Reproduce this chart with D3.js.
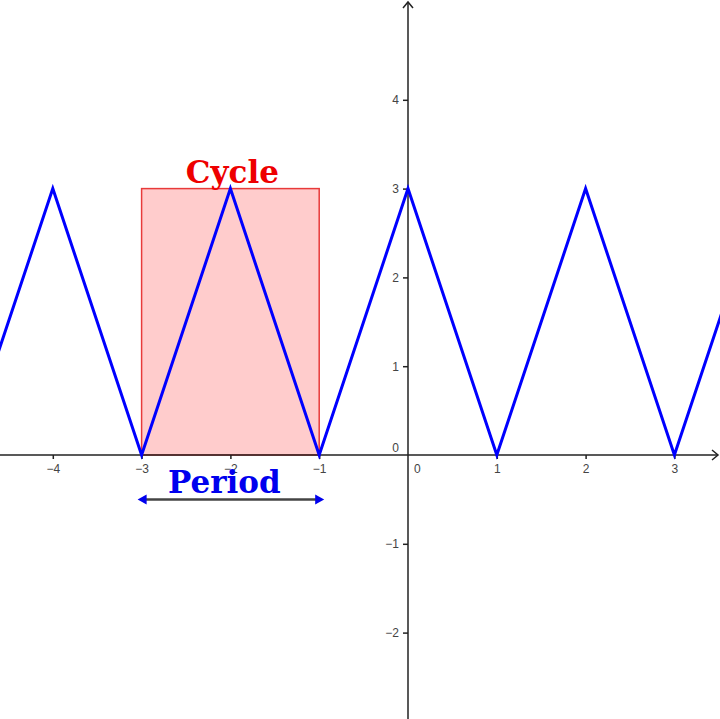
<!DOCTYPE html>
<html><head><meta charset="utf-8">
<script src="https://cdn.jsdelivr.net/npm/d3@7"></script>
<style>html,body{margin:0;padding:0;background:#fff;overflow:hidden}</style>
</head><body>
<svg id="c" width="720" height="719"></svg>
<script>
// data
const waveX = [-5, -4, -3, -2, -1, 0, 1, 2, 3, 4];
const waveY = [0, 3, 0, 3, 0, 3, 0, 3, 0, 3];
const xTicks = [-4, -3, -2, -1, 1, 2, 3];
const yTicks = [-2, -1, 1, 2, 3, 4];
const cycleX = [-3, -1];
const cycleY = [0, 3];
const periodX = [-3, -1];
const periodY = -0.5;
const cycleLabel = "Cycle";
const periodLabel = "Period";

const W = 720, H = 719;
const unit = 88.8;
const x = d3.scaleLinear().domain([-408 / unit, (W - 408) / unit]).range([0, W]);
const y = d3.scaleLinear().domain([-(H - 455) / unit, 455 / unit]).range([H, 0]);

const svg = d3.select("#c");
const defs = svg.append("defs");
defs.append("clipPath").attr("id", "clip").append("rect").attr("width", W).attr("height", H);

// cycle rectangle
svg.append("rect")
  .attr("x", x(cycleX[0])).attr("y", y(cycleY[1]))
  .attr("width", x(cycleX[1]) - x(cycleX[0]))
  .attr("height", y(cycleY[0]) - y(cycleY[1]))
  .attr("fill", "#ffcccc").attr("stroke", "#e83a3a").attr("stroke-width", 1.5);

// axes
const axisColor = "#222";
const labelColor = "#444";
const font = "'Liberation Sans', Arial, sans-serif";

const xAxis = d3.axisBottom(x).tickValues(xTicks).tickSize(4).tickPadding(5)
  .tickFormat(d => d < 0 ? "\u2212" + Math.abs(d) : d);
const gx = svg.append("g").attr("transform", `translate(0,${y(0)})`).call(xAxis);
gx.select(".domain").remove();
gx.selectAll(".tick line").attr("stroke", axisColor).attr("stroke-width", 1.5);
gx.selectAll(".tick text").attr("fill", labelColor).style("font-family", font).style("font-size", "12px");

const yAxis = d3.axisLeft(y).tickValues(yTicks).tickSize(5).tickPadding(4)
  .tickFormat(d => d < 0 ? "\u2212" + Math.abs(d) : d);
const gy = svg.append("g").attr("transform", `translate(${x(0)},0)`).call(yAxis);
gy.select(".domain").remove();
gy.selectAll(".tick line").attr("stroke", axisColor).attr("stroke-width", 1.5);
gy.selectAll(".tick text").attr("fill", labelColor).style("font-family", font).style("font-size", "12px");

// axis lines
svg.append("line").attr("x1", 0).attr("x2", W - 2).attr("y1", y(0)).attr("y2", y(0))
  .attr("stroke", axisColor).attr("stroke-width", 1.5);
svg.append("line").attr("x1", x(0)).attr("x2", x(0)).attr("y1", 2).attr("y2", H)
  .attr("stroke", axisColor).attr("stroke-width", 1.5);
// arrow heads
svg.append("path").attr("d", `M${W - 8},${y(0) - 5} L${W - 2},${y(0)} L${W - 8},${y(0) + 5}`)
  .attr("fill", "none").attr("stroke", axisColor).attr("stroke-width", 1.5);
svg.append("path").attr("d", `M${x(0) - 5},8 L${x(0)},2 L${x(0) + 5},8`)
  .attr("fill", "none").attr("stroke", axisColor).attr("stroke-width", 1.5);

// zero labels
svg.append("text").attr("x", x(0) + 6).attr("y", y(0) + 18).text("0")
  .attr("fill", labelColor).style("font-family", font).style("font-size", "12px");
svg.append("text").attr("x", x(0) - 9).attr("y", y(0) - 3).attr("text-anchor", "end").text("0")
  .attr("fill", labelColor).style("font-family", font).style("font-size", "12px");

// wave
const pts = waveX.map((v, i) => [v, waveY[i]]);
svg.append("path").datum(pts).attr("clip-path", "url(#clip)")
  .attr("d", d3.line().x(d => x(d[0])).y(d => y(d[1])))
  .attr("fill", "none").attr("stroke", "#0000ff").attr("stroke-width", 3).attr("stroke-linejoin", "miter");

// period arrow
const py = y(periodY);
const x0 = x(periodX[0]) - 4, x1 = x(periodX[1]) + 5;
svg.append("line").attr("x1", x0 + 6).attr("x2", x1 - 6).attr("y1", py).attr("y2", py)
  .attr("stroke", "#444").attr("stroke-width", 2.5);
svg.append("path").attr("d", `M${x0},${py} L${x0 + 9},${py - 5} L${x0 + 9},${py + 5} Z`).attr("fill", "#0000ee");
svg.append("path").attr("d", `M${x1},${py} L${x1 - 9},${py - 5} L${x1 - 9},${py + 5} Z`).attr("fill", "#0000ee");

// labels
const serif = "'DejaVu Serif', serif";
svg.append("text").attr("x", x(-2) + 2).attr("y", 183).attr("text-anchor", "middle").text(cycleLabel)
  .attr("fill", "#ee0000").style("font-family", serif).style("font-weight", "bold").style("font-size", "31px");
svg.append("text").attr("x", x(-2) - 6).attr("y", 493).attr("text-anchor", "middle").text(periodLabel)
  .attr("fill", "#0000ee").style("font-family", serif).style("font-weight", "bold").style("font-size", "31px");
</script>
</body></html>
